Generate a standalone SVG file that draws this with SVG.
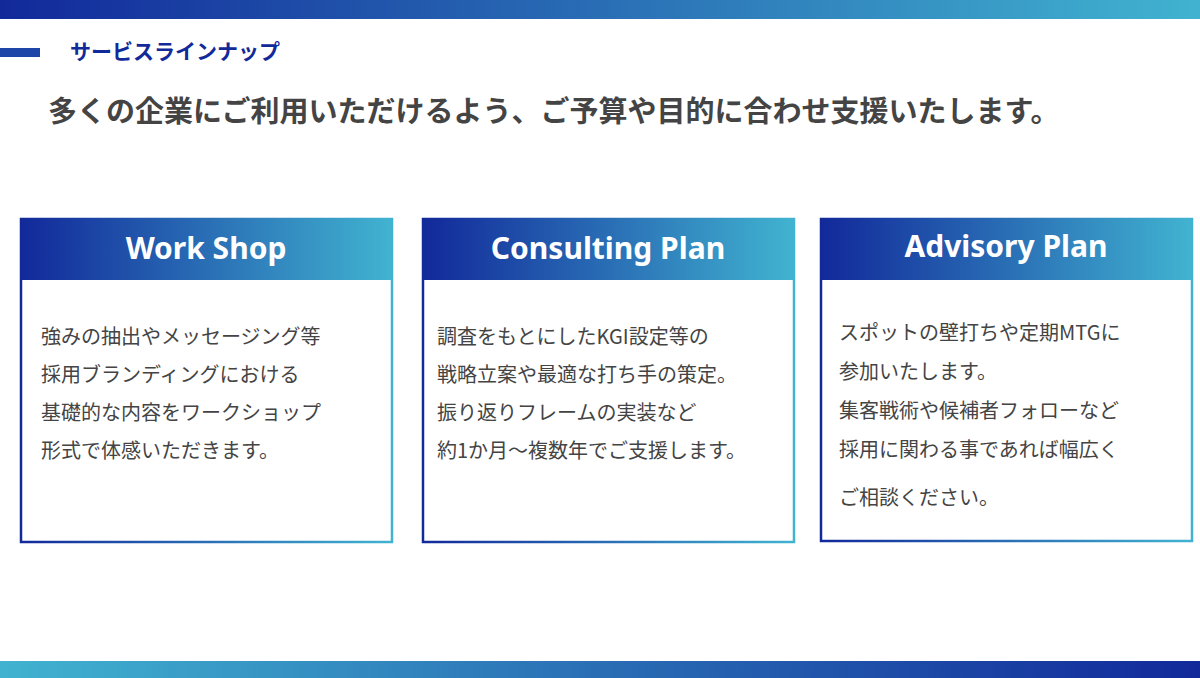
<svg xmlns="http://www.w3.org/2000/svg" width="1200" height="678" viewBox="0 0 1200 678">
<defs>
<linearGradient id="g" x1="0" y1="0" x2="1" y2="0"><stop offset="0" stop-color="#12299a"/><stop offset="1" stop-color="#41b3d0"/></linearGradient>
<linearGradient id="gr" x1="0" y1="0" x2="1" y2="0"><stop offset="0" stop-color="#41b3d0"/><stop offset="1" stop-color="#12299a"/></linearGradient>
<style>
.h{font-family:"Noto Sans","Noto Sans CJK JP",sans-serif;font-size:30px;font-weight:bold;fill:#fff;text-anchor:middle}
.b{font-family:"Noto Sans CJK JP",sans-serif;font-size:20px;fill:#444}
.box{fill:#fff;stroke:url(#g);stroke-width:2.5}
</style>
</defs>
<rect width="1200" height="678" fill="#fff"/>
<rect x="0" y="0" width="1200" height="19" fill="url(#g)"/>
<rect x="0" y="661" width="1200" height="17" fill="url(#gr)"/>
<rect x="0" y="48" width="40" height="9" fill="#1e45a8"/>
<text x="70" y="59" font-family="Noto Sans CJK JP,sans-serif" font-size="21" font-weight="bold" fill="#12299a">サービスラインナップ</text>
<text x="48" y="122" font-family="Noto Sans CJK JP,sans-serif" font-size="29" font-weight="bold" fill="#444">多くの企業にご利用いただけるよう、ご予算や目的に合わせ支援いたします。</text>
<g id="n1">
<rect class="box" x="21" y="219" width="371" height="323"/>
<rect x="21" y="218" width="371" height="62" fill="url(#g)"/>
<text class="h" x="206" y="259">Work Shop</text>
<text class="b" x="41" y="344">強みの抽出やメッセージング等</text>
<text class="b" x="41" y="382">採用ブランディングにおける</text>
<text class="b" x="41" y="420">基礎的な内容をワークショップ</text>
<text class="b" x="41" y="458">形式で体感いただきます。</text>
</g>
<g id="n2">
<rect class="box" x="423" y="219" width="371" height="323"/>
<rect x="423" y="218" width="371" height="62" fill="url(#g)"/>
<text class="h" x="608" y="259">Consulting Plan</text>
<text class="b" x="437" y="344">調査をもとにしたKGI設定等の</text>
<text class="b" x="437" y="382">戦略立案や最適な打ち手の策定。</text>
<text class="b" x="437" y="420">振り返りフレームの実装など</text>
<text class="b" x="437" y="458">約1か月〜複数年でご支援します。</text>
</g>
<g id="n3">
<rect class="box" x="821" y="219" width="371" height="322"/>
<rect x="821" y="218" width="371" height="62" fill="url(#g)"/>
<text class="h" x="1006" y="257">Advisory Plan</text>
<text class="b" x="839" y="340">スポットの壁打ちや定期MTGに</text>
<text class="b" x="839" y="379">参加いたします。</text>
<text class="b" x="839" y="418">集客戦術や候補者フォローなど</text>
<text class="b" x="839" y="467" dy="-10">採用に関わる事であれば幅広く</text>
<text class="b" x="839" y="505">ご相談ください。</text>
</g>
<g id="connectors"/>
</svg>
